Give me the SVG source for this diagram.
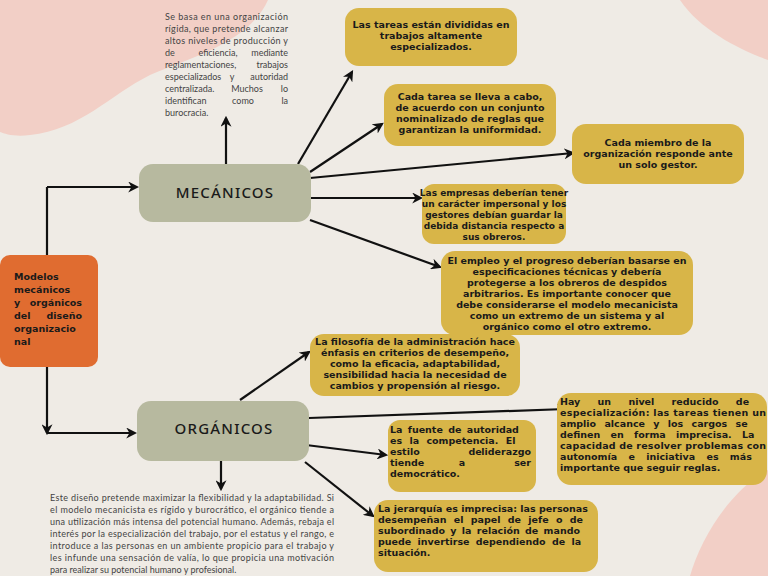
<svg xmlns="http://www.w3.org/2000/svg" width="768" height="576" viewBox="0 0 768 576">
<defs>
<marker id="ah" viewBox="0 0 10 10" refX="8" refY="5" markerWidth="5" markerHeight="5" orient="auto"><path d="M0,0 L10,5 L0,10 L3,5 z" fill="#111"/></marker>
<style>
.y{fill:#d8b548}
.g{fill:#b7b99f}
.t{font-family:"DejaVu Sans",sans-serif;font-size:9.5px;fill:#1a1a1a;font-weight:600}
.s{font-size:9px}
.h{font-family:"Noto Sans","DejaVu Sans",sans-serif;font-size:15px;fill:#1a1a1a;letter-spacing:1.2px;font-weight:500}
.p{font-family:"Lato",sans-serif;font-size:9px;fill:#444}
.e{text-anchor:end}
.c line,.c path{stroke:#111;stroke-width:2.2;fill:none;marker-end:url(#ah)}
</style>
</defs>
<rect width="768" height="576" fill="#efebe5"/>
<path d="M0,0 H268 C250,40 200,55 150,75 C110,95 80,130 30,135 C15,137 5,134 0,132 Z" fill="#f2cfc6"/>
<path d="M680,0 H768 V60 C740,50 700,30 680,0 Z" fill="#f2cfc6"/>
<path d="M768,470 V576 H690 C700,540 730,490 768,470 Z" fill="#f2cfc6"/>
<g class="c">
<path d="M47,187 V433" marker-end="none"/>
<line x1="47" y1="187" x2="137" y2="187"/>
<line x1="47" y1="433" x2="135" y2="433"/>
<line x1="226" y1="164" x2="226" y2="118"/>
<line x1="298" y1="164" x2="352" y2="72"/>
<line x1="310" y1="172" x2="382" y2="124"/>
<line x1="310" y1="178" x2="573" y2="153"/>
<line x1="310" y1="198" x2="421" y2="198"/>
<line x1="310" y1="220" x2="440" y2="267"/>
<line x1="240" y1="400" x2="309" y2="352"/>
<line x1="309" y1="418" x2="566" y2="409"/>
<line x1="306" y1="445" x2="386" y2="455"/>
<line x1="305" y1="462" x2="373" y2="516"/>
<line x1="221" y1="455" x2="221" y2="489"/>
</g>
<g id="n-origen"><rect x="0" y="255" width="98" height="112" rx="10" fill="#e06c30"/>
<text class="t" x="14" y="280">Modelos</text>
<text class="t" x="14" y="293">mecánicos</text>
<text class="t" x="14" y="306">y</text><text class="t e" x="82" y="306">orgánicos</text>
<text class="t" x="14" y="319">del</text><text class="t e" x="82" y="319">diseño</text>
<text class="t" x="14" y="332">organizacio</text>
<text class="t" x="14" y="345">nal</text></g>
<g id="n-mec"><rect class="g" x="139" y="164" width="172" height="58" rx="14"/><text class="h" x="225" y="198" text-anchor="middle">MECÁNICOS</text></g>
<g id="n-org"><rect class="g" x="137" y="401" width="172" height="60" rx="14"/><text class="h" x="224" y="434" text-anchor="middle">ORGÁNICOS</text></g>
<g id="d-mec" class="p">
<text x="165" y="20" textLength="123">Se basa en una organización</text>
<text x="165" y="32" textLength="123">rígida, que pretende alcanzar</text>
<text x="165" y="44" textLength="123">altos niveles de producción y</text>
<text x="165" y="56">de</text><text x="218" y="56" text-anchor="middle">eficiencia,</text><text class="e" x="288" y="56">mediante</text>
<text x="165" y="68">reglamentaciones,</text><text class="e" x="288" y="68">trabajos</text>
<text x="165" y="80">especializados</text><text x="232" y="80" text-anchor="middle">y</text><text class="e" x="288" y="80">autoridad</text>
<text x="165" y="92">centralizada.</text><text x="247" y="92" text-anchor="middle">Muchos</text><text class="e" x="288" y="92">lo</text>
<text x="165" y="104">identifican</text><text x="243" y="104" text-anchor="middle">como</text><text class="e" x="288" y="104">la</text>
<text x="165" y="116">burocracia.</text></g>
<g id="d-org" class="p">
<text x="50" y="501" textLength="284">Este diseño pretende maximizar la flexibilidad y la adaptabilidad. Si</text>
<text x="50" y="513" textLength="284">el modelo mecanicista es rígido y burocrático, el orgánico tiende a</text>
<text x="50" y="525" textLength="284">una utilización más intensa del potencial humano. Además, rebaja el</text>
<text x="50" y="537" textLength="284">interés por la especialización del trabajo, por el estatus y el rango, e</text>
<text x="50" y="549" textLength="284">introduce a las personas en un ambiente propicio para el trabajo y</text>
<text x="50" y="561" textLength="284">les infunde una sensación de valía, lo que propicia una motivación</text>
<text x="50" y="573">para realizar su potencial humano y profesional.</text></g>
<g id="n1"><rect class="y" x="345" y="8" width="172" height="58" rx="14"/>
<text class="t" text-anchor="middle" x="431" y="28">Las tareas están divididas en</text>
<text class="t" text-anchor="middle" x="431" y="39">trabajos altamente</text>
<text class="t" text-anchor="middle" x="431" y="50">especializados.</text></g>
<g id="n2"><rect class="y" x="384" y="84" width="172" height="62" rx="14"/>
<text class="t" text-anchor="middle" x="470" y="100">Cada tarea se lleva a cabo,</text>
<text class="t" text-anchor="middle" x="470" y="111">de acuerdo con un conjunto</text>
<text class="t" text-anchor="middle" x="470" y="122">nominalizado de reglas que</text>
<text class="t" text-anchor="middle" x="470" y="133">garantizan la uniformidad.</text></g>
<g id="n3"><rect class="y" x="572" y="124" width="172" height="60" rx="14"/>
<text class="t" text-anchor="middle" x="658" y="146">Cada miembro de la</text>
<text class="t" text-anchor="middle" x="658" y="157">organización responde ante</text>
<text class="t" text-anchor="middle" x="658" y="168">un solo gestor.</text></g>
<g id="n4"><rect class="y" x="422" y="184" width="144" height="60" rx="12"/>
<text class="t s" text-anchor="middle" x="494" y="196">Las empresas deberían tener</text>
<text class="t s" text-anchor="middle" x="494" y="207">un carácter impersonal y los</text>
<text class="t s" text-anchor="middle" x="494" y="218">gestores debían guardar la</text>
<text class="t s" text-anchor="middle" x="494" y="229">debida distancia respecto a</text>
<text class="t s" text-anchor="middle" x="494" y="240">sus obreros.</text></g>
<g id="n5"><rect class="y" x="441" y="251" width="252" height="84" rx="14"/>
<text class="t" text-anchor="middle" x="567" y="264">El empleo y el progreso deberían basarse en</text>
<text class="t" text-anchor="middle" x="567" y="275">especificaciones técnicas y debería</text>
<text class="t" text-anchor="middle" x="567" y="286">protegerse a los obreros de despidos</text>
<text class="t" text-anchor="middle" x="567" y="297">arbitrarios. Es importante conocer que</text>
<text class="t" text-anchor="middle" x="567" y="308">debe considerarse el modelo mecanicista</text>
<text class="t" text-anchor="middle" x="567" y="319">como un extremo de un sistema y al</text>
<text class="t" text-anchor="middle" x="567" y="330">orgánico como el otro extremo.</text></g>
<g id="n6"><rect class="y" x="310" y="334" width="210" height="62" rx="14"/>
<text class="t" text-anchor="middle" x="415" y="345">La filosofía de la administración hace</text>
<text class="t" text-anchor="middle" x="415" y="356">énfasis en criterios de desempeño,</text>
<text class="t" text-anchor="middle" x="415" y="367">como la eficacia, adaptabilidad,</text>
<text class="t" text-anchor="middle" x="415" y="378">sensibilidad hacia la necesidad de</text>
<text class="t" text-anchor="middle" x="415" y="389">cambios y propensión al riesgo.</text></g>
<g id="n7"><rect class="y" x="557" y="393" width="210" height="92" rx="14"/>
<text class="t" x="560" y="405" word-spacing="14">Hay un nivel reducido de</text>
<text class="t" x="560" y="416" textLength="206">especialización: las tareas tienen un</text>
<text class="t" x="560" y="427" word-spacing="5">amplio alcance y los cargos se</text>
<text class="t" x="560" y="438" word-spacing="7">definen en forma imprecisa. La</text>
<text class="t" x="560" y="449" textLength="206">capacidad de resolver problemas con</text>
<text class="t" x="560" y="460" word-spacing="8">autonomía e iniciativa es más</text>
<text class="t" x="560" y="471">importante que seguir reglas.</text></g>
<g id="n8"><rect class="y" x="388" y="420" width="148" height="72" rx="12"/>
<text class="t" x="390" y="433" word-spacing="2">La fuente de autoridad</text>
<text class="t" x="390" y="444" word-spacing="4">es la competencia. El</text>
<text class="t" x="390" y="455">estilo</text><text class="t" x="475" y="455" text-anchor="middle">de</text><text class="t e" x="531" y="455">liderazgo</text>
<text class="t" x="390" y="466">tiende</text><text class="t" x="462" y="466" text-anchor="middle">a</text><text class="t e" x="531" y="466">ser</text>
<text class="t" x="390" y="477">democrático.</text></g>
<g id="n9"><rect class="y" x="374" y="500" width="224" height="72" rx="14"/>
<text class="t" x="378" y="512">La jerarquía es imprecisa: las personas</text>
<text class="t" x="378" y="523" word-spacing="4">desempeñan el papel de jefe o de</text>
<text class="t" x="378" y="534" word-spacing="2">subordinado y la relación de mando</text>
<text class="t" x="378" y="545" word-spacing="3">puede invertirse dependiendo de la</text>
<text class="t" x="378" y="556">situación.</text></g>
</svg>
